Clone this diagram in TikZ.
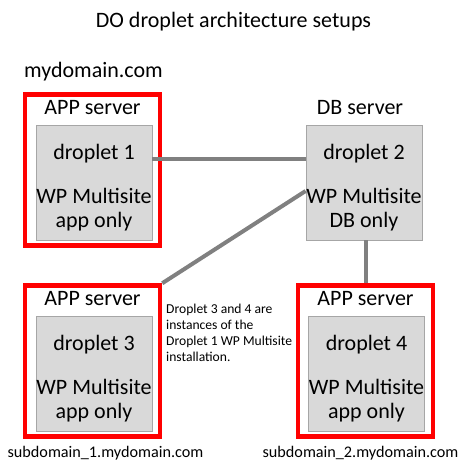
\documentclass[tikz,border=0pt]{standalone}
\usepackage{fontspec}
\setmainfont{Carlito}
\usetikzlibrary{positioning,calc}
\tikzset{
  big/.style={font=\fontsize{22}{24}\selectfont},
  note/.style={font=\fontsize{13.6}{16}\selectfont},
  sub/.style={font=\fontsize{16.2}{19}\selectfont},
  appbox/.style={draw=red, line width=4.5pt, minimum width=135pt, minimum height=151pt, inner sep=0pt},
  dropbox/.style={draw=gray!70, fill=gray!30, line width=0.8pt, minimum width=116pt, minimum height=115pt, inner sep=0pt},
  link/.style={draw=gray, line width=4pt}
}

\begin{document}
\begin{tikzpicture}[x=1pt,y=-1pt]
  \useasboundingbox (0,0) rectangle (474,468);
  \node[big] (title) at (233.5,22) {DO droplet architecture setups};
  \node[big] (dom) at (93.5,72) {mydomain.com};
     % red app server frames
     \foreach \n/\x/\y in {1/92.5/170, 3/92.5/361, 4/365.5/361}
     {
       \node[appbox] (app\n) at (\x,\y) {};
       \node[big] (lab\n) at (\x,\y-62) {APP server};
     }
  \node[big] (lab2) at (360,108) {DB server};
     % droplets
     \foreach \n/\x/\y/\last in {1/94/182.5/app only, 2/364/182.5/DB only, 3/94/374/app only, 4/366.5/374/app only}
       \node[dropbox, label={[big, align=center, yshift=-5pt]center:{droplet \n\\[20pt]WP Multisite\\\last}}] (d\n) at (\x,\y) {};
  % links
  \draw[link] ([yshift=23.5pt]d1.east) -- ([yshift=23.5pt]d2.west);
  \draw[link] ([yshift=-8.5pt]d2.west) -- (app3.north east);
  \draw[link] ([xshift=2pt]d2.south) -- ([xshift=2pt]d2.south |- app4.north);
  \node[note, align=left, anchor=north west, inner sep=0pt] (info) at (166,304)
     {Droplet 3 and 4 are\\instances of the\\Droplet 1 WP Multisite\\installation.};
  \node[sub] (sub1) at (105.5,453) {subdomain\_1.mydomain.com};
  \node[sub] (sub2) at (360.5,453) {subdomain\_2.mydomain.com};
\end{tikzpicture}
\end{document}
